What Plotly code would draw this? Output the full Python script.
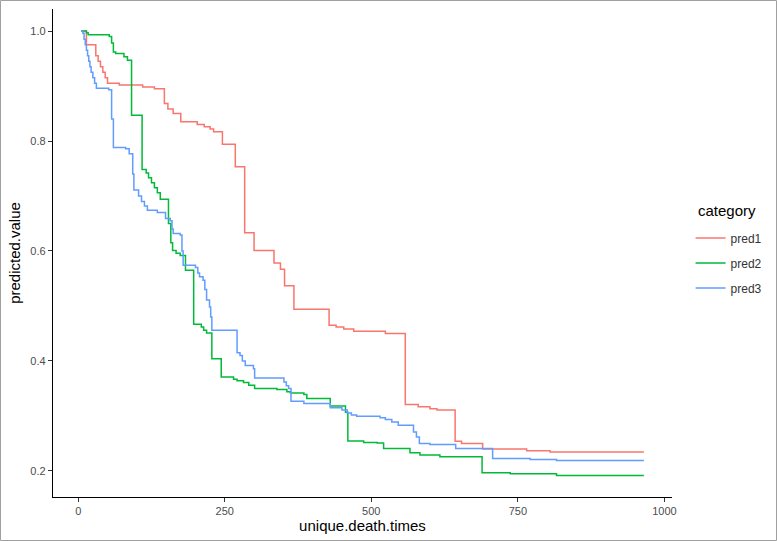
import plotly.graph_objects as go

# step data (unique.death.times vs predicted.value)
pred1_x = [5, 14, 30, 34, 38, 42, 46, 50, 70, 110, 130, 147, 153, 162, 175, 203, 215, 225, 231, 246,
           268, 284, 300, 334, 345, 352, 368, 428, 440, 453, 470, 524, 558, 580, 600, 612, 643, 654,
           690, 765, 805, 965]
pred1_y = [1.0, 0.975, 0.955, 0.945, 0.935, 0.925, 0.915, 0.905, 0.902, 0.898, 0.895, 0.868, 0.858,
           0.850, 0.835, 0.830, 0.826, 0.822, 0.817, 0.794, 0.753, 0.633, 0.601, 0.578, 0.567, 0.537,
           0.494, 0.465, 0.462, 0.458, 0.454, 0.450, 0.321, 0.317, 0.313, 0.311, 0.254, 0.250, 0.240,
           0.237, 0.2345, 0.2345]

pred2_x = [5, 14, 17, 53, 57, 60, 64, 78, 84, 91, 109, 116, 120, 125, 130, 135, 140, 154, 158, 161,
           167, 174, 183, 197, 210, 214, 219, 228, 244, 265, 271, 282, 291, 301, 339, 356, 362, 385,
           390, 430, 456, 460, 487, 510, 521, 566, 583, 617, 689, 737, 816, 965]
pred2_y = [1.0, 0.997, 0.993, 0.990, 0.978, 0.962, 0.959, 0.953, 0.947, 0.847, 0.748, 0.742, 0.733,
           0.724, 0.715, 0.706, 0.694, 0.650, 0.615, 0.601, 0.596, 0.592, 0.565, 0.467, 0.462, 0.456,
           0.451, 0.404, 0.371, 0.367, 0.364, 0.361, 0.356, 0.350, 0.348, 0.344, 0.342, 0.339, 0.332,
           0.318, 0.307, 0.2545, 0.252, 0.251, 0.241, 0.233, 0.229, 0.226, 0.197, 0.195, 0.192, 0.192]

pred3_x = [5, 8, 10, 12, 14, 16, 18, 20, 22, 25, 28, 31, 52, 57, 60, 81, 87, 93, 95, 103, 108, 113,
           118, 135, 149, 157, 160, 162, 174, 177, 179, 200, 204, 207, 213, 216, 219, 224, 226, 228,
           271, 276, 280, 285, 299, 301, 351, 355, 359, 363, 385, 430, 450, 459, 466, 475, 515, 524,
           535, 546, 572, 577, 582, 600, 644, 707, 771, 816, 965]
pred3_y = [1.0, 0.996, 0.985, 0.975, 0.965, 0.955, 0.945, 0.935, 0.925, 0.915, 0.905, 0.896, 0.893,
           0.840, 0.788, 0.786, 0.777, 0.740, 0.711, 0.700, 0.690, 0.682, 0.674, 0.670, 0.659, 0.655,
           0.640, 0.632, 0.629, 0.600, 0.574, 0.570, 0.560, 0.553, 0.547, 0.530, 0.511, 0.498, 0.480,
           0.456, 0.415, 0.410, 0.400, 0.392, 0.386, 0.369, 0.362, 0.355, 0.350, 0.327, 0.3225, 0.315,
           0.311, 0.3055, 0.302, 0.2995, 0.297, 0.2935, 0.289, 0.283, 0.271, 0.262, 0.250, 0.248,
           0.241, 0.2225, 0.221, 0.219, 0.219]

series_names = ['pred1', 'pred2', 'pred3']
series_colors = ['#F8766D', '#00BA38', '#619CFF']
x_ticks = [0, 250, 500, 750, 1000]
y_ticks = [0.2, 0.4, 0.6, 0.8, 1.0]
y_tick_labels = ['0.2', '0.4', '0.6', '0.8', '1.0']

fig = go.Figure()
for name, xs, ys, col in zip(series_names, [pred1_x, pred2_x, pred3_x], [pred1_y, pred2_y, pred3_y], series_colors):
    fig.add_trace(go.Scatter(x=xs, y=ys, name=name, legendgroup=name, mode='lines', line_shape='hv',
                             line=dict(color=col, width=1.5)))

axis_font = dict(family='Liberation Sans, Arial', size=11, color='#4D4D4D')
title_font = dict(family='Liberation Sans, Arial', size=15, color='black')

W, H = 777, 541
ml, mr, mt, mb = 53, 105, 9, 44
pw, ph = W - ml - mr, H - mt - mb

fig.update_layout(
    width=W, height=H,
    margin=dict(l=ml, r=mr, t=mt, b=mb, pad=0),
    plot_bgcolor='white', paper_bgcolor='white',
    xaxis=dict(range=[-43, 1013], tickvals=x_ticks, showgrid=False, zeroline=False,
               showline=True, linecolor='black', linewidth=1.3,
               ticks='outside', ticklen=4, tickcolor='#333333', tickwidth=1,
               tickfont=axis_font, title=dict(text='unique.death.times', font=title_font, standoff=4)),
    yaxis=dict(range=[0.1527, 1.040], tickvals=y_ticks, ticktext=y_tick_labels, showgrid=False,
               zeroline=False, showline=True, linecolor='black', linewidth=1.3,
               ticks='outside', ticklen=4, tickcolor='#333333', tickwidth=1,
               tickfont=axis_font, title=dict(text='predicted.value', font=title_font, standoff=6)),
    legend=dict(x=1.03, y=(mt + ph - 263) / ph, xanchor='left', yanchor='middle',
                font=dict(family='Liberation Sans, Arial', size=12, color='#333333'),
                tracegroupgap=6, itemwidth=30),
    # legend title as its own text so the item spacing can follow the reference
    annotations=[dict(text='category', xref='paper', yref='paper', x=(696 - ml) / pw,
                      y=(mt + ph - 210) / ph, xanchor='left', yanchor='middle', showarrow=False,
                      font=dict(family='Liberation Sans, Arial', size=15, color='black'))],
    # thin grey frame round the whole picture
    shapes=[dict(type='rect', xref='paper', yref='paper',
                 x0=(0.5 - ml) / pw, x1=(W - 0.5 - ml) / pw,
                 y0=(mt + ph - (H - 0.5)) / ph, y1=(mt + ph - 0.5) / ph,
                 line=dict(color='#A0A0A0', width=1))],
)

# page has a default 8px body margin, drop it so the figure sits at the window corner
fig.write_html("out.html", config={'displayModeBar': False},
               post_script="document.body.style.margin='0px';")
